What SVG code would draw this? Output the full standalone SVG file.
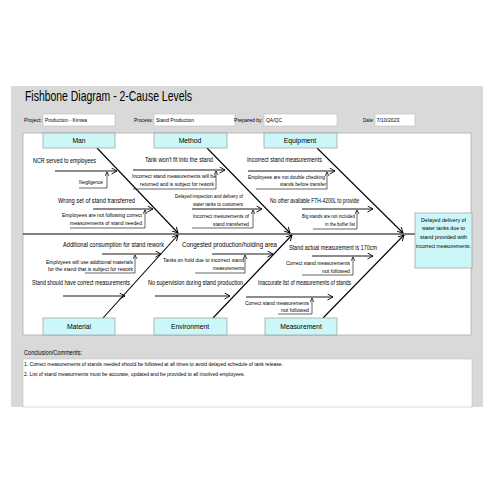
<svg xmlns="http://www.w3.org/2000/svg" width="495" height="495" viewBox="0 0 495 495">
<style>
text{font-family:"Liberation Sans",Arial,sans-serif;fill:#000}
.t1{font-size:6.3px}
.t2{font-size:5.5px}
.lbl{font-size:5.4px}
.cat{font-size:6.8px;text-anchor:middle}
.catbox{fill:#ccf7f9;stroke:#9a9a9a;stroke-width:0.7}
.inp{fill:#fff;stroke:#bdbdbd;stroke-width:0.6}
.bone{stroke:#000;stroke-width:1.1;fill:none}
.sub{stroke:#000;stroke-width:0.9;fill:none}
.brk{stroke:#000;stroke-width:0.6;fill:none}
.e{text-anchor:end}
.m{text-anchor:middle}
</style>
<defs>
<marker id="ah" markerWidth="7" markerHeight="7" refX="6" refY="3.5" orient="auto" markerUnits="userSpaceOnUse">
<path d="M0.5,0.5 L6,3.5 L0.5,6.5" fill="none" stroke="#000" stroke-width="0.9"/>
</marker>
<marker id="ahs" markerWidth="5" markerHeight="5" refX="4.5" refY="2.5" orient="auto" markerUnits="userSpaceOnUse">
<path d="M0.5,0.5 L4.5,2.5 L0.5,4.5" fill="none" stroke="#000" stroke-width="0.7"/>
</marker>
</defs>
<rect x="0" y="0" width="495" height="495" fill="#fff"/>
<rect x="11" y="86" width="472" height="321" fill="#d9d9d9"/>
<text x="25" y="101" textLength="167" lengthAdjust="spacingAndGlyphs" style="font-size:13.8px" fill="#1a1a1a">Fishbone Diagram - 2-Cause Levels</text>
<g id="header">
<text class="lbl" x="24" y="122" textLength="18" lengthAdjust="spacingAndGlyphs">Project:</text>
<rect class="inp" x="43" y="114" width="72" height="12"/>
<text class="lbl" x="45" y="122" textLength="42" lengthAdjust="spacingAndGlyphs">Production - Kimwa</text>
<text class="lbl" x="134" y="122" textLength="19" lengthAdjust="spacingAndGlyphs">Process:</text>
<rect class="inp" x="154" y="114" width="81" height="12"/>
<text class="lbl" x="156" y="122" textLength="38" lengthAdjust="spacingAndGlyphs">Stand Production</text>
<text class="lbl" x="234" y="122" textLength="29" lengthAdjust="spacingAndGlyphs">Prepared by:</text>
<rect class="inp" x="264" y="114" width="73" height="12"/>
<text class="lbl" x="266" y="122" textLength="16" lengthAdjust="spacingAndGlyphs">QA/QC</text>
<text class="lbl" x="363" y="122" textLength="11" lengthAdjust="spacingAndGlyphs">Date:</text>
<rect class="inp" x="375" y="114" width="40" height="12"/>
<text class="lbl" x="376.5" y="122" textLength="23" lengthAdjust="spacingAndGlyphs">7/10/2023</text>
</g>
<rect x="23" y="133" width="448" height="202" fill="#fff" stroke="#a6a6a6" stroke-width="0.7"/>
<g id="connectors">
<line class="bone" x1="23" y1="234" x2="415" y2="234"/>
<line class="bone" x1="97" y1="148" x2="178" y2="233" marker-end="url(#ah)"/>
<line class="bone" x1="207" y1="148" x2="290" y2="233" marker-end="url(#ah)"/>
<line class="bone" x1="317" y1="148" x2="403" y2="233" marker-end="url(#ah)"/>
<line class="bone" x1="103" y1="318" x2="178" y2="235" marker-end="url(#ah)"/>
<line class="bone" x1="213" y1="318" x2="292" y2="235" marker-end="url(#ah)"/>
<line class="bone" x1="323" y1="318" x2="404" y2="235" marker-end="url(#ah)"/>
<line class="sub" x1="55" y1="171" x2="117" y2="171" marker-end="url(#ah)"/>
<polyline class="brk" points="79,188 107,188 107,172" marker-end="url(#ahs)"/>
<line class="sub" x1="93" y1="209" x2="153" y2="209" marker-end="url(#ah)"/>
<polyline class="brk" points="70,228 145,228 145,210" marker-end="url(#ahs)"/>
<line class="sub" x1="133" y1="170" x2="225" y2="170" marker-end="url(#ah)"/>
<polyline class="brk" points="133,189 216,189 216,171" marker-end="url(#ahs)"/>
<line class="sub" x1="192" y1="209" x2="262" y2="209" marker-end="url(#ah)"/>
<polyline class="brk" points="192,228 253,228 253,210" marker-end="url(#ahs)"/>
<line class="sub" x1="248" y1="171" x2="335" y2="171" marker-end="url(#ah)"/>
<polyline class="brk" points="256,189 327,189 327,172" marker-end="url(#ahs)"/>
<line class="sub" x1="302" y1="209" x2="373" y2="209" marker-end="url(#ah)"/>
<polyline class="brk" points="313,229 357,229 357,210" marker-end="url(#ahs)"/>
<line class="sub" x1="102" y1="254" x2="161" y2="254" marker-end="url(#ah)"/>
<polyline class="brk" points="85,273 135,273 135,255" marker-end="url(#ahs)"/>
<line class="sub" x1="63" y1="296" x2="125" y2="296" marker-end="url(#ah)"/>
<line class="sub" x1="212" y1="254" x2="273" y2="254" marker-end="url(#ah)"/>
<polyline class="brk" points="195,273 245,273 245,255" marker-end="url(#ahs)"/>
<line class="sub" x1="155" y1="296" x2="230" y2="296" marker-end="url(#ah)"/>
<line class="sub" x1="312" y1="256" x2="373" y2="256" marker-end="url(#ah)"/>
<polyline class="brk" points="302,275 353,275 353,257" marker-end="url(#ahs)"/>
<line class="sub" x1="246" y1="297" x2="333" y2="297" marker-end="url(#ah)"/>
<polyline class="brk" points="278,314 312,314 312,298" marker-end="url(#ahs)"/>
</g>
<g id="cat-man"><rect class="catbox" x="43" y="133" width="72" height="15"/><text class="cat" x="79" y="143">Man</text></g>
<g id="cat-method"><rect class="catbox" x="154" y="133" width="73" height="15"/><text class="cat" x="190" y="143">Method</text></g>
<g id="cat-equipment"><rect class="catbox" x="264" y="133" width="73" height="15"/><text class="cat" x="300" y="143">Equipment</text></g>
<g id="cat-material"><rect class="catbox" x="43" y="318" width="72" height="17"/><text class="cat" x="79" y="329">Material</text></g>
<g id="cat-environment"><rect class="catbox" x="154" y="318" width="73" height="17"/><text class="cat" x="190" y="329">Environment</text></g>
<g id="cat-measurement"><rect class="catbox" x="265" y="318" width="72" height="17"/><text class="cat" x="301" y="329">Measurement</text></g>
<g id="effect">
<rect class="catbox" x="415" y="213" width="57" height="55"/>
<text class="t2 m" x="443.5" y="222" textLength="45" lengthAdjust="spacingAndGlyphs">Delayed delivery of</text>
<text class="t2 m" x="443.5" y="230" textLength="43" lengthAdjust="spacingAndGlyphs">water tanks due to</text>
<text class="t2 m" x="443.5" y="239" textLength="47" lengthAdjust="spacingAndGlyphs">stand provided with</text>
<text class="t2 m" x="443.5" y="248" textLength="55" lengthAdjust="spacingAndGlyphs">incorrect measurements.</text>
</g>
<g id="causes-man">
<text class="t1" x="33" y="163" textLength="63" lengthAdjust="spacingAndGlyphs">NCR served to employees</text>
<text class="t2" x="79" y="184" textLength="24" lengthAdjust="spacingAndGlyphs">Negligence</text>
<text class="t1" x="58" y="203" textLength="77" lengthAdjust="spacingAndGlyphs">Wrong set of stand transferred</text>
<text class="t2" x="62" y="217" textLength="80" lengthAdjust="spacingAndGlyphs">Employees are not following correct</text>
<text class="t2" x="70" y="225" textLength="72" lengthAdjust="spacingAndGlyphs">measurements of stand needed</text>
</g>
<g id="causes-method">
<text class="t1" x="145" y="162" textLength="68" lengthAdjust="spacingAndGlyphs">Tank won't fit into the stand</text>
<text class="t2" x="132" y="178" textLength="84" lengthAdjust="spacingAndGlyphs">Incorrect stand measurements will be</text>
<text class="t2" x="140" y="186" textLength="74" lengthAdjust="spacingAndGlyphs">returned and is subject for rework</text>
<text class="t2" x="175" y="198" textLength="68" lengthAdjust="spacingAndGlyphs">Delayed inspection and delivery of</text>
<text class="t2" x="193" y="206" textLength="50" lengthAdjust="spacingAndGlyphs">water tanks to customers</text>
<text class="t2" x="193" y="218" textLength="56" lengthAdjust="spacingAndGlyphs">Incorrect mesurements of</text>
<text class="t2" x="213" y="226" textLength="36" lengthAdjust="spacingAndGlyphs">stand transferred</text>
</g>
<g id="causes-equipment">
<text class="t1" x="247" y="162" textLength="75" lengthAdjust="spacingAndGlyphs">Incorrect stand measurements</text>
<text class="t2" x="248" y="179" textLength="77" lengthAdjust="spacingAndGlyphs">Employees are not double checking</text>
<text class="t2" x="280" y="186" textLength="46" lengthAdjust="spacingAndGlyphs">stands before transfer</text>
<text class="t1" x="270" y="203" textLength="89" lengthAdjust="spacingAndGlyphs">No other available FTH-4200L to provide</text>
<text class="t2" x="302" y="218" textLength="53" lengthAdjust="spacingAndGlyphs">Big stands are not included</text>
<text class="t2" x="325" y="226" textLength="30" lengthAdjust="spacingAndGlyphs">in the buffer list</text>
</g>
<g id="causes-material">
<text class="t1" x="63" y="247" textLength="101" lengthAdjust="spacingAndGlyphs">Additional consumption for stand rework</text>
<text class="t2" x="46" y="264" textLength="87" lengthAdjust="spacingAndGlyphs">Employees will use additional materials</text>
<text class="t2" x="48" y="271" textLength="85" lengthAdjust="spacingAndGlyphs">for the stand that is subject for rework</text>
<text class="t1" x="32" y="285" textLength="98" lengthAdjust="spacingAndGlyphs">Stand should have correct measurements</text>
</g>
<g id="causes-environment">
<text class="t1" x="182" y="247" textLength="95" lengthAdjust="spacingAndGlyphs">Congested production/holding area</text>
<text class="t2" x="163" y="262" textLength="81" lengthAdjust="spacingAndGlyphs">Tanks on hold due to incorrect stand</text>
<text class="t2" x="213" y="270" textLength="31" lengthAdjust="spacingAndGlyphs">measurements</text>
<text class="t1" x="148" y="285" textLength="95" lengthAdjust="spacingAndGlyphs">No supervision during stand production</text>
</g>
<g id="causes-measurement">
<text class="t1" x="289" y="250" textLength="88" lengthAdjust="spacingAndGlyphs">Stand actual measurement is 170cm</text>
<text class="t2" x="286" y="265" textLength="64" lengthAdjust="spacingAndGlyphs">Correct stand measurements</text>
<text class="t2" x="322" y="273" textLength="28" lengthAdjust="spacingAndGlyphs">not followed</text>
<text class="t1" x="258" y="285" textLength="93" lengthAdjust="spacingAndGlyphs">Inaccurate list of measurements of stands</text>
<text class="t2" x="245" y="305" textLength="64" lengthAdjust="spacingAndGlyphs">Correct stand measurements</text>
<text class="t2" x="281" y="312" textLength="28" lengthAdjust="spacingAndGlyphs">not followed</text>
</g>
<g id="conclusion">
<text class="t1" x="24" y="355" textLength="58" lengthAdjust="spacingAndGlyphs">Conclusion/Comments:</text>
<rect x="23" y="359" width="449" height="48" fill="#fff" stroke="#c4c4c4" stroke-width="0.6"/>
<text class="t2" x="24" y="366" textLength="259" lengthAdjust="spacingAndGlyphs">1. Correct measurements of stands needed should be followed at all times to avoid delayed schedule of tank release.</text>
<text class="t2" x="24" y="376" textLength="221" lengthAdjust="spacingAndGlyphs">2. List of stand measurments must be accurate, updated and be provided to all involved employees.</text>
</g>
</svg>
